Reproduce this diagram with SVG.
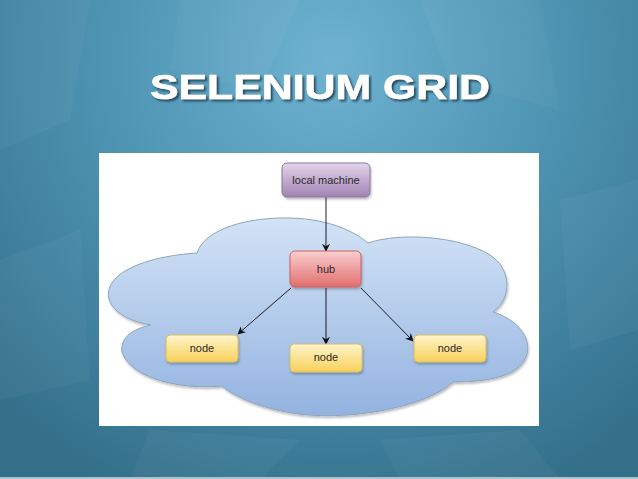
<svg xmlns="http://www.w3.org/2000/svg" width="638" height="479" viewBox="0 0 638 479">
  <defs>
    <radialGradient id="bg" cx="330" cy="60" r="480" gradientUnits="userSpaceOnUse">
      <stop offset="0" stop-color="#6fb2d1"/>
      <stop offset="0.45" stop-color="#4f95b4"/>
      <stop offset="1" stop-color="#336f89"/>
    </radialGradient>
    <linearGradient id="cloudG" x1="0" y1="0" x2="0" y2="1">
      <stop offset="0" stop-color="#d3e3f6"/>
      <stop offset="1" stop-color="#93b3e0"/>
    </linearGradient>
    <linearGradient id="purpleG" x1="0" y1="0" x2="0" y2="1">
      <stop offset="0" stop-color="#e3d4ea"/>
      <stop offset="1" stop-color="#a183b4"/>
    </linearGradient>
    <linearGradient id="redG" x1="0" y1="0" x2="0" y2="1">
      <stop offset="0" stop-color="#f9cfcf"/>
      <stop offset="1" stop-color="#e36e6e"/>
    </linearGradient>
    <linearGradient id="yellowG" x1="0" y1="0" x2="0" y2="1">
      <stop offset="0" stop-color="#fff4cc"/>
      <stop offset="1" stop-color="#f8d15a"/>
    </linearGradient>
    <filter id="shadow" x="-20%" y="-20%" width="140%" height="150%">
      <feDropShadow dx="1" dy="2" stdDeviation="1.2" flood-color="#000" flood-opacity="0.25"/>
    </filter>
    <filter id="tshadow" x="-10%" y="-30%" width="120%" height="160%">
      <feDropShadow dx="2" dy="2" stdDeviation="0.8" flood-color="#143a4c" flood-opacity="0.85"/>
    </filter>
    <marker id="arrow" viewBox="0 0 10 10" refX="9" refY="5" markerWidth="8" markerHeight="8" markerUnits="userSpaceOnUse" orient="auto">
      <path d="M0,0 L10,5 L0,10 L3,5 Z" fill="#111"/>
    </marker>
  </defs>
  <style>
    .box { stroke-width: 1; filter: url(#shadow); }
    .lbl { font-family: "Liberation Sans", Arial, sans-serif; font-size: 11px; fill: #2a2a2a; text-anchor: middle; }
    .conn { stroke: #1a1a2a; stroke-width: 1; fill: none; marker-end: url(#arrow); }
    .facet { fill: #ffffff; }
  </style>

  <!-- background -->
  <rect x="0" y="0" width="638" height="479" fill="url(#bg)"/>
  <g opacity="0.03">
    <polygon class="facet" points="0,0 90,0 70,120 0,150"/>
    <polygon class="facet" points="180,0 300,0 260,90 170,70"/>
    <polygon class="facet" points="420,0 540,0 560,110 450,80"/>
    <polygon class="facet" points="0,260 80,230 90,380 0,400"/>
    <polygon class="facet" points="560,200 638,180 638,330 570,350"/>
    <polygon class="facet" points="150,430 300,440 260,479 130,479"/>
    <polygon class="facet" points="380,440 520,430 560,479 400,479"/>
  </g>
  <rect x="0" y="477" width="638" height="2" fill="#a9c3cf"/>

  <!-- title -->
  <text x="320" y="99" font-family="'Liberation Sans', Arial, sans-serif" font-weight="bold" font-size="35" fill="#ffffff" stroke="#ffffff" stroke-width="0.6" text-anchor="middle" textLength="340" lengthAdjust="spacingAndGlyphs" filter="url(#tshadow)">SELENIUM GRID</text>

  <!-- white panel -->
  <rect x="99" y="153" width="440" height="273" fill="#ffffff"/>

  <!-- cloud -->
  <g id="cloud">
    <path d="M197,253 C205,228 250,217 290,218 C330,219 355,232 368,243 C400,232 460,236 490,255 C510,268 514,296 493,312 C526,322 540,352 515,370 C500,380 472,382 453,382 C425,408 345,422 292,413 C262,408 236,398 222,386 C180,390 130,378 122,352 C120,338 132,329 151,325 C110,318 100,295 115,279 C130,263 165,255 197,253 Z" fill="url(#cloudG)" stroke="#8ea3bd" stroke-width="1" filter="url(#shadow)"/>
  </g>

  <!-- connectors -->
  <g id="connectors">
    <line class="conn" x1="326" y1="197" x2="326" y2="251"/>
    <line class="conn" x1="326" y1="288" x2="326" y2="344"/>
    <line class="conn" x1="291" y1="288" x2="238" y2="334"/>
    <line class="conn" x1="361" y1="288" x2="413" y2="341"/>
  </g>

  <!-- nodes -->
  <g id="local-machine">
    <rect class="box" x="282" y="163" width="88" height="34" rx="5" fill="url(#purpleG)" stroke="#8c74a0"/>
    <text class="lbl" x="326" y="184">local machine</text>
  </g>
  <g id="hub">
    <rect class="box" x="290" y="251" width="71" height="36" rx="5" fill="url(#redG)" stroke="#c9605d"/>
    <text class="lbl" x="326" y="273">hub</text>
  </g>
  <g id="node-left">
    <rect class="box" x="166" y="335" width="72" height="27" rx="4" fill="url(#yellowG)" stroke="#d8bb62"/>
    <text class="lbl" x="202" y="352">node</text>
  </g>
  <g id="node-center">
    <rect class="box" x="290" y="344" width="72" height="28" rx="4" fill="url(#yellowG)" stroke="#d8bb62"/>
    <text class="lbl" x="326" y="361">node</text>
  </g>
  <g id="node-right">
    <rect class="box" x="414" y="335" width="72" height="27" rx="4" fill="url(#yellowG)" stroke="#d8bb62"/>
    <text class="lbl" x="450" y="352">node</text>
  </g>
</svg>
